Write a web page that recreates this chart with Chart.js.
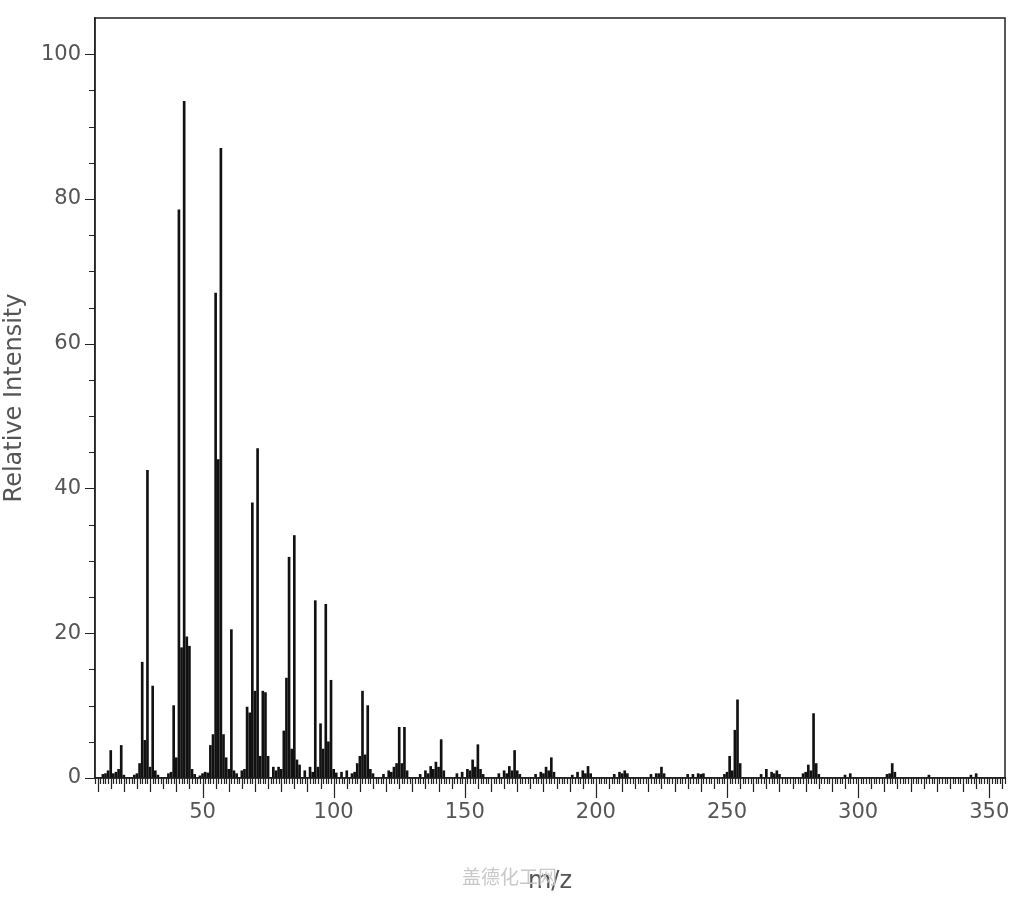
<!DOCTYPE html>
<html>
<head>
<meta charset="utf-8">
<script src="https://cdn.jsdelivr.net/npm/chart.js@4.4.1/dist/chart.umd.min.js"></script>
<style>
  body { margin: 0; background: #fff; }
  #wrap { position: relative; width: 1024px; height: 900px; }
  #wm { position: absolute; left: 462px; top: 862px; font: 19px "Noto Sans CJK SC", sans-serif; color: #c8c8c8; }
</style>
</head>
<body>
<div id="wrap">
  <canvas id="ms" width="1024" height="900"></canvas>
  <div id="wm">盖德化工网</div>
</div>
<script>
// m/z values and relative intensities
const mz = [12, 13, 14, 15, 16, 17, 18, 19, 20, 24, 25, 26, 27, 28, 29, 30, 31, 32, 33,
  37, 38, 39, 40, 41, 42, 43, 44, 45, 46, 47, 49, 50, 51, 52, 53, 54, 55, 56, 57, 58, 59, 60, 61, 62,
  63, 65, 66, 67, 68, 69, 70, 71, 72, 73, 74, 75, 77, 78, 79, 80, 81, 82, 83, 84, 85, 86, 87,
  89, 91, 92, 93, 94, 95, 96, 97, 98, 99, 100, 101, 103, 105, 107, 108, 109, 110, 111, 112, 113, 114, 115,
  119, 121, 122, 123, 124, 125, 126, 127, 128, 133, 135, 136, 137, 138, 139, 140, 141, 142,
  147, 149, 151, 152, 153, 154, 155, 156, 157, 163, 165, 166, 167, 168, 169, 170, 171,
  177, 179, 180, 181, 182, 183, 184, 191, 193, 195, 196, 197, 198, 207, 209, 210, 211, 212,
  221, 223, 224, 225, 226, 235, 237, 239, 240, 241, 249, 250, 251, 252, 253, 254, 255,
  263, 265, 267, 268, 269, 270, 279, 280, 281, 282, 283, 284, 285, 295, 297, 311, 312, 313, 314, 327, 343, 345];
const intensity = [0.5, 0.6, 1.0, 3.8, 0.6, 0.8, 1.2, 4.5, 0.4, 0.4, 0.6, 2.0, 16.0, 5.2, 42.5, 1.5, 12.7, 1.0, 0.4,
  0.6, 0.8, 10.0, 2.8, 78.5, 18.0, 93.5, 19.5, 18.2, 1.2, 0.5, 0.3, 0.6, 0.8, 0.7, 4.5, 6.0, 67.0, 44.0, 87.0, 6.0, 2.8, 1.2, 20.5, 1.0,
  0.6, 1.0, 1.2, 9.8, 9.0, 38.0, 12.0, 45.5, 3.0, 12.0, 11.8, 3.0, 1.5, 1.0, 1.5, 1.2, 6.5, 13.8, 30.5, 4.0, 33.5, 2.5, 1.8,
  1.0, 1.5, 0.8, 24.5, 1.5, 7.5, 4.0, 24.0, 5.0, 13.5, 1.2, 0.7, 0.8, 1.0, 0.6, 0.8, 2.0, 3.0, 12.0, 3.2, 10.0, 1.2, 0.6,
  0.5, 1.0, 0.8, 1.5, 2.0, 7.0, 2.0, 7.0, 1.0, 0.5, 1.0, 0.6, 1.6, 1.2, 2.2, 1.5, 5.3, 1.0,
  0.6, 0.8, 1.2, 1.0, 2.5, 1.5, 4.6, 1.2, 0.5, 0.6, 1.0, 0.6, 1.6, 1.0, 3.8, 1.0, 0.5,
  0.5, 0.8, 0.6, 1.5, 1.0, 2.8, 0.8, 0.4, 0.8, 1.0, 0.6, 1.6, 0.6, 0.5, 0.8, 0.6, 1.0, 0.6,
  0.5, 0.6, 0.6, 1.5, 0.6, 0.5, 0.5, 0.6, 0.5, 0.6, 0.5, 0.8, 3.0, 1.0, 6.6, 10.8, 2.0,
  0.5, 1.2, 0.8, 0.6, 1.0, 0.5, 0.6, 0.8, 1.8, 1.0, 8.9, 2.0, 0.5, 0.4, 0.6, 0.5, 0.6, 2.0, 0.8, 0.4, 0.4, 0.6];
const xTickLabels = [50, 100, 150, 200, 250, 300, 350];
const yTickLabels = [0, 20, 40, 60, 80, 100];

// minor tick marks along both axes
const minorTicks = {
  id: 'minorTicks',
  afterDraw(chart) {
    const { ctx, scales: { x, y }, chartArea: a } = chart;
    ctx.save();
    ctx.strokeStyle = '#222';
    ctx.lineWidth = 1.2;
    ctx.beginPath();
    for (let v = Math.ceil(x.min); v <= x.max; v++) {
      const px = Math.round(x.getPixelForValue(v)) + 0.5;
      const len = v % 50 === 0 ? 20 : v % 10 === 0 ? 14 : v % 5 === 0 ? 11 : 6;
      ctx.moveTo(px, a.bottom);
      ctx.lineTo(px, a.bottom + len);
    }
    for (let v = 0; v <= 100; v += 5) {
      const py = Math.round(y.getPixelForValue(v)) + 0.5;
      const len = v % 20 === 0 ? 10 : 6;
      ctx.moveTo(a.left, py);
      ctx.lineTo(a.left - len, py);
    }
    ctx.stroke();
    ctx.restore();
  }
};

new Chart(document.getElementById('ms'), {
  type: 'bar',
  data: {
    datasets: [{
      data: mz.map((m, i) => ({ x: m, y: intensity[i] })),
      backgroundColor: '#111',
      barThickness: 2,
      borderWidth: 0
    }]
  },
  options: {
    responsive: false,
    animation: false,
    layout: { padding: { top: 18, right: 19 } },
    plugins: { legend: { display: false }, tooltip: { enabled: false } },
    scales: {
      x: {
        type: 'linear',
        offset: false,
        min: 9,
        max: 356,
        afterFit(s) { s.height = 122; s.paddingLeft = 0; s.paddingRight = 0; },
        afterBuildTicks(s) { s.ticks = xTickLabels.map(v => ({ value: v })); },
        grid: { display: false, drawTicks: false, offset: false },
        border: { display: true, color: '#222', width: 1.5 },
        ticks: { color: '#555', font: { family: 'DejaVu Sans', size: 21 }, padding: 22, maxRotation: 0 },
        title: { display: true, text: 'm/z', color: '#555', font: { family: 'DejaVu Sans', size: 24 }, padding: { top: 20 } }
      },
      y: {
        min: 0,
        max: 105,
        afterFit(s) { s.width = 95; s.paddingTop = 0; s.paddingBottom = 0; },
        afterBuildTicks(s) { s.ticks = yTickLabels.map(v => ({ value: v })); },
        grid: { display: false, drawTicks: false },
        border: { display: true, color: '#222', width: 1.5 },
        ticks: { color: '#555', font: { family: 'DejaVu Sans', size: 21 }, padding: 14 },
        title: { display: true, text: 'Relative Intensity', color: '#555', font: { family: 'DejaVu Sans', size: 24 }, padding: 0 }
      }
    }
  },
  plugins: [minorTicks, {
    id: 'frame',
    afterDraw(chart) {
      const { ctx, chartArea: a } = chart;
      ctx.save();
      ctx.strokeStyle = '#222';
      ctx.lineWidth = 1.5;
      ctx.strokeRect(a.left, a.top, a.right - a.left, a.bottom - a.top);
      ctx.restore();
    }
  }]
});
</script>
</body>
</html>
